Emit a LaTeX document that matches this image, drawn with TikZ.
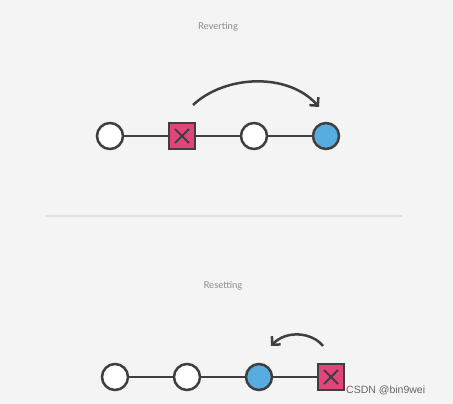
\documentclass[tikz,border=0pt]{standalone}
\usepackage{fontspec}
\setmainfont{Lato}
\newfontfamily\markfont{Liberation Sans}
\usetikzlibrary{positioning,arrows.meta}
\definecolor{ink}{HTML}{3F3F3F}
\definecolor{paper}{HTML}{F4F4F4}
\definecolor{bad}{HTML}{E0457B}
\definecolor{head}{HTML}{58ADE0}
\begin{document}
\begin{tikzpicture}[x=1pt, y=-1pt, node distance=43.5pt,
  c/.style={circle, draw=ink, line width=2.5pt, fill=white, minimum size=26pt, inner sep=0pt},
  h/.style={fill=head},
  cx/.style={rectangle, draw=ink, line width=2.5pt, fill=bad, minimum size=26pt, inner sep=0pt,
    path picture={\draw[ink, line width=2pt]
      ([shift={(6pt,6pt)}]path picture bounding box.south west) -- ([shift={(-6pt,-6pt)}]path picture bounding box.north east)
      ([shift={(6pt,-6pt)}]path picture bounding box.north west) -- ([shift={(-6pt,6pt)}]path picture bounding box.south east);}},
  s/.style={draw=ink, line width=2.5pt},
  m/.style={ink, line width=2.5pt, -{Straight Barb[length=6pt, width=12pt, line width=2.5pt]}},
  t/.style={text=black!45, font=\fontsize{9.5}{11}\selectfont}]
  \fill[paper] (0,0) rectangle (453,404);
  \useasboundingbox (0,0) rectangle (453,404);

  % reverting
  \node[t] (rev_label) at (218,27) {Reverting};
  \node[c] (A) at (110,136) {};
  \node[cx, right=of A] (B) {};
  \node[c, right=of B] (C) {};
  \node[c, h, right=of C] (D) {};
  \path[s] (A) edge (B) (B) edge (C) (C) edge (D);
  \coordinate (rev_from) at (193,105);
  \coordinate (rev_to) at (319,107);
  \draw[m] (rev_from) .. controls (225,75) and (288,72) .. (rev_to);

  \draw[black!12, line width=1.2pt] (45,216) -- (402,216);

  % resetting
  \node[t] (res_label) at (223,286) {Resetting};
  \node[c] (E) at (115,377) {};
  \node[c, right=of E] (F) {};
  \node[c, h, right=of F] (G) {};
  \node[cx, right=of G] (H) {};
  \path[s] (E) edge (F) (F) edge (G) (G) edge (H);
  \coordinate (res_from) at (323,346);
  \coordinate (res_to) at (271,346);
  \draw[m] (res_from) .. controls (312,332) and (286,330) .. (res_to);

  \node[anchor=base west, inner sep=0pt, text=black!60, font=\markfont\fontsize{10.5}{12}\selectfont] (mark) at (346,393) {CSDN @bin9wei};
\end{tikzpicture}
\end{document}
